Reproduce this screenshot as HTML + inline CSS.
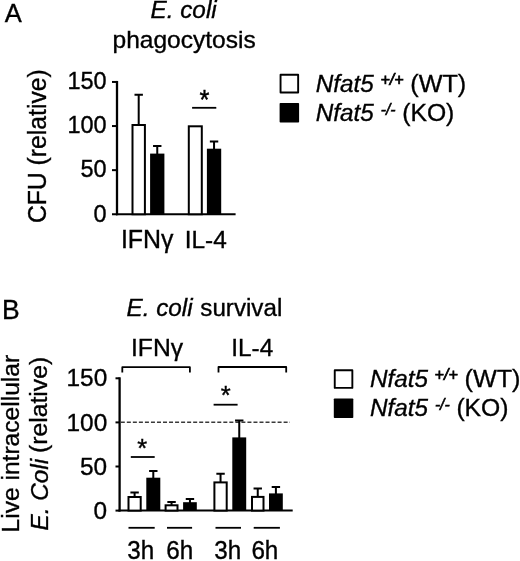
<!DOCTYPE html>
<html><head><meta charset="utf-8"><title>Figure</title>
<style>
html,body{margin:0;padding:0;background:#fff;}
svg{display:block;}
text{font-family:"Liberation Sans",sans-serif;fill:#000;}
</style></head>
<body>
<svg width="520" height="561" viewBox="0 0 520 561">
<rect width="520" height="561" fill="#fff"/>
<text transform="translate(4.8,21.7) scale(1,1.04)" font-size="25.5" text-anchor="start" stroke="#000" stroke-width="0.35">A</text>
<text transform="translate(183.6,18.4) scale(1,0.95)" font-size="24.3" text-anchor="middle" font-style="italic" stroke="#000" stroke-width="0.35">E. coli</text>
<text transform="translate(184.1,48.0) scale(1,0.98)" font-size="24.55" text-anchor="middle" stroke="#000" stroke-width="0.35">phagocytosis</text>
<text transform="translate(45.7,223.1) rotate(-90) scale(1,1.01)" font-size="24.75" text-anchor="start" stroke="#000" stroke-width="0.35">CFU (relative)</text>
<line x1="117.0" y1="80.94999999999999" x2="117.0" y2="215.25" stroke="#000" stroke-width="2.3"/>
<line x1="116.0" y1="214.25" x2="235.6" y2="214.25" stroke="#000" stroke-width="2.0"/>
<line x1="112" y1="214.25" x2="117.0" y2="214.25" stroke="#000" stroke-width="2.0"/>
<text transform="translate(106.6,221.8) scale(1,1.05)" font-size="23.5" text-anchor="end" stroke="#000" stroke-width="0.35">0</text>
<line x1="112" y1="170.15" x2="117.0" y2="170.15" stroke="#000" stroke-width="2.0"/>
<text transform="translate(106.6,176.9) scale(1,1.05)" font-size="23.5" text-anchor="end" stroke="#000" stroke-width="0.35">50</text>
<line x1="112" y1="126.05" x2="117.0" y2="126.05" stroke="#000" stroke-width="2.0"/>
<text transform="translate(106.6,132.6) scale(1,1.05)" font-size="23.5" text-anchor="end" stroke="#000" stroke-width="0.35">100</text>
<line x1="112" y1="81.95" x2="117.0" y2="81.95" stroke="#000" stroke-width="2.0"/>
<text transform="translate(106.6,88.5) scale(1,1.05)" font-size="23.5" text-anchor="end" stroke="#000" stroke-width="0.35">150</text>
<path d="M138.70 125.00V94.80M134.50 94.80H142.90" fill="none" stroke="#000" stroke-width="2.0"/>
<rect x="132.50" y="125.00" width="12.40" height="89.25" fill="#fff" stroke="#000" stroke-width="2.0"/>
<path d="M157.25 154.60V146.00M153.05 146.00H161.45" fill="none" stroke="#000" stroke-width="2.0"/>
<rect x="150.10" y="153.60" width="14.30" height="60.65" fill="#000"/>
<rect x="188.80" y="126.30" width="13.00" height="87.95" fill="#fff" stroke="#000" stroke-width="2.0"/>
<path d="M214.05 149.70V141.40M209.85 141.40H218.25" fill="none" stroke="#000" stroke-width="2.0"/>
<rect x="206.90" y="148.70" width="14.30" height="65.55" fill="#000"/>
<line x1="192.1" y1="107.8" x2="216.3" y2="107.8" stroke="#000" stroke-width="1.8"/>
<text transform="translate(204.45,108.6) scale(1,1.07)" font-size="25.5" text-anchor="middle" stroke="#000" stroke-width="0.4">*</text>
<text transform="translate(120.9,247.5)" font-size="24.9" text-anchor="start" stroke="#000" stroke-width="0.35">IFNγ</text>
<text transform="translate(184.7,247.5)" font-size="24.4" text-anchor="start" stroke="#000" stroke-width="0.35">IL-4</text>
<rect x="280.55" y="74.80" width="17.6" height="17.7" fill="#fff" stroke="#000" stroke-width="1.9" stroke-linejoin="round"/>
<rect x="279.60" y="103.00" width="19.5" height="19.6" rx="0.8" fill="#000"/>
<text transform="translate(315.8,91.9) scale(1,0.95)" font-size="24.3" text-anchor="start" font-style="italic" stroke="#000" stroke-width="0.35">Nfat5</text>
<text transform="translate(380.4,84.5)" font-size="16" text-anchor="start" font-style="italic" stroke="#000" stroke-width="0.7">+/+</text>
<text transform="translate(410.3,91.9) scale(1,0.96)" font-size="25.2" text-anchor="start" stroke="#000" stroke-width="0.35">(WT)</text>
<text transform="translate(315.8,120.8) scale(1,0.95)" font-size="24.3" text-anchor="start" font-style="italic" stroke="#000" stroke-width="0.35">Nfat5</text>
<text transform="translate(380.7,115.0)" font-size="15.7" text-anchor="start" font-style="italic" stroke="#000" stroke-width="0.6">-/-</text>
<text transform="translate(402.2,120.7) scale(1,0.96)" font-size="24.7" text-anchor="start" stroke="#000" stroke-width="0.35">(KO)</text>
<text transform="translate(2.0,318.6) scale(1,1.05)" font-size="26.5" text-anchor="start" stroke="#000" stroke-width="0.35">B</text>
<text transform="translate(126.5,315.8) scale(1,0.95)" font-size="24.3" text-anchor="start" font-style="italic" stroke="#000" stroke-width="0.35">E. coli</text>
<text transform="translate(200.3,315.8) scale(1,0.98)" font-size="24.2" text-anchor="start" stroke="#000" stroke-width="0.35">survival</text>
<text transform="translate(131.0,356.2)" font-size="24.7" text-anchor="start" stroke="#000" stroke-width="0.35">IFNγ</text>
<text transform="translate(231.3,356.4)" font-size="24.3" text-anchor="start" stroke="#000" stroke-width="0.35">IL-4</text>
<polyline points="122.3,372.4 122.3,367.15 189.9,367.15 189.9,372.4" fill="none" stroke="#000" stroke-width="1.8" stroke-linejoin="round"/>
<polyline points="218.5,372.4 218.5,367.0 286.2,367.0 286.2,372.4" fill="none" stroke="#000" stroke-width="1.8" stroke-linejoin="round"/>
<text transform="translate(19.1,532.5) rotate(-90)" font-size="24.6" text-anchor="start" stroke="#000" stroke-width="0.35">Live intracellular</text>
<text transform="translate(47.5,530.4) rotate(-90) scale(1,0.96)" font-size="24.3" text-anchor="start" font-style="italic" stroke="#000" stroke-width="0.35">E. Coli</text>
<text transform="translate(47.0,452.9) rotate(-90) scale(1,0.97)" font-size="24.7" text-anchor="start" stroke="#000" stroke-width="0.35">(relative)</text>
<line x1="119.6" y1="377.3" x2="119.6" y2="511.6" stroke="#000" stroke-width="2.3"/>
<line x1="118.6" y1="510.6" x2="292.7" y2="510.6" stroke="#000" stroke-width="2.0"/>
<line x1="115.5" y1="510.60" x2="119.6" y2="510.60" stroke="#000" stroke-width="2.0"/>
<text transform="translate(107.2,519.4)" font-size="24.4" text-anchor="end" stroke="#000" stroke-width="0.35">0</text>
<line x1="115.5" y1="466.50" x2="119.6" y2="466.50" stroke="#000" stroke-width="2.0"/>
<text transform="translate(107.2,474.5)" font-size="24.4" text-anchor="end" stroke="#000" stroke-width="0.35">50</text>
<line x1="115.5" y1="422.40" x2="119.6" y2="422.40" stroke="#000" stroke-width="2.0"/>
<text transform="translate(107.2,430.6)" font-size="24.4" text-anchor="end" stroke="#000" stroke-width="0.35">100</text>
<line x1="115.5" y1="378.30" x2="119.6" y2="378.30" stroke="#000" stroke-width="2.0"/>
<text transform="translate(107.2,386.3)" font-size="24.4" text-anchor="end" stroke="#000" stroke-width="0.35">150</text>
<line x1="120.8" y1="422.30" x2="290" y2="422.30" stroke="#3a3a3a" stroke-width="1.5" stroke-dasharray="4,2.03"/>
<path d="M134.60 497.00V492.40M130.40 492.40H138.80" fill="none" stroke="#000" stroke-width="2.0"/>
<rect x="128.50" y="497.00" width="12.20" height="13.60" fill="#fff" stroke="#000" stroke-width="2.0"/>
<path d="M153.30 478.70V470.90M149.10 470.90H157.50" fill="none" stroke="#000" stroke-width="2.0"/>
<rect x="146.30" y="477.70" width="14.00" height="32.90" fill="#000"/>
<path d="M171.55 505.30V501.90M167.35 501.90H175.75" fill="none" stroke="#000" stroke-width="2.0"/>
<rect x="165.60" y="505.30" width="11.90" height="5.30" fill="#fff" stroke="#000" stroke-width="2.0"/>
<path d="M189.95 503.20V498.90M185.75 498.90H194.15" fill="none" stroke="#000" stroke-width="2.0"/>
<rect x="183.10" y="502.20" width="13.70" height="8.40" fill="#000"/>
<path d="M220.55 482.40V473.70M216.35 473.70H224.75" fill="none" stroke="#000" stroke-width="2.0"/>
<rect x="214.40" y="482.40" width="12.30" height="28.20" fill="#fff" stroke="#000" stroke-width="2.0"/>
<path d="M239.25 438.40V420.40M235.05 420.40H243.45" fill="none" stroke="#000" stroke-width="2.0"/>
<rect x="232.30" y="437.40" width="13.90" height="73.20" fill="#000"/>
<path d="M257.75 496.90V488.50M253.55 488.50H261.95" fill="none" stroke="#000" stroke-width="2.0"/>
<rect x="252.00" y="496.90" width="11.50" height="13.70" fill="#fff" stroke="#000" stroke-width="2.0"/>
<path d="M275.90 494.40V487.10M271.70 487.10H280.10" fill="none" stroke="#000" stroke-width="2.0"/>
<rect x="269.00" y="493.40" width="13.80" height="17.20" fill="#000"/>
<line x1="130.8" y1="457" x2="154.7" y2="457" stroke="#000" stroke-width="1.8"/>
<text transform="translate(142.3,456.9)" font-size="25.5" text-anchor="middle" stroke="#000" stroke-width="0.4">*</text>
<line x1="213.6" y1="404.7" x2="237.6" y2="404.7" stroke="#000" stroke-width="1.8"/>
<text transform="translate(225.6,404.2)" font-size="25.5" text-anchor="middle" stroke="#000" stroke-width="0.4">*</text>
<line x1="128.5" y1="527.8" x2="154.7" y2="527.8" stroke="#000" stroke-width="1.8"/>
<line x1="167" y1="527.8" x2="192.1" y2="527.8" stroke="#000" stroke-width="1.8"/>
<line x1="215.5" y1="527.8" x2="241" y2="527.8" stroke="#000" stroke-width="1.8"/>
<line x1="253.7" y1="527.8" x2="279.9" y2="527.8" stroke="#000" stroke-width="1.8"/>
<text transform="translate(127.3,559.0) scale(1,1.05)" font-size="24.2" text-anchor="start" stroke="#000" stroke-width="0.35">3h</text>
<text transform="translate(166.3,559.0) scale(1,1.05)" font-size="24.2" text-anchor="start" stroke="#000" stroke-width="0.35">6h</text>
<text transform="translate(214.3,559.0) scale(1,1.05)" font-size="24.2" text-anchor="start" stroke="#000" stroke-width="0.35">3h</text>
<text transform="translate(251.4,559.0) scale(1,1.05)" font-size="24.2" text-anchor="start" stroke="#000" stroke-width="0.35">6h</text>
<rect x="334.75" y="370.20" width="17.6" height="17.7" fill="#fff" stroke="#000" stroke-width="1.9" stroke-linejoin="round"/>
<rect x="333.80" y="398.40" width="19.5" height="19.6" rx="0.8" fill="#000"/>
<text transform="translate(370.0,387.3) scale(1,0.95)" font-size="24.3" text-anchor="start" font-style="italic" stroke="#000" stroke-width="0.35">Nfat5</text>
<text transform="translate(434.6,379.9)" font-size="16" text-anchor="start" font-style="italic" stroke="#000" stroke-width="0.7">+/+</text>
<text transform="translate(464.5,387.3) scale(1,0.96)" font-size="25.2" text-anchor="start" stroke="#000" stroke-width="0.35">(WT)</text>
<text transform="translate(370.0,416.2) scale(1,0.95)" font-size="24.3" text-anchor="start" font-style="italic" stroke="#000" stroke-width="0.35">Nfat5</text>
<text transform="translate(434.9,410.4)" font-size="15.7" text-anchor="start" font-style="italic" stroke="#000" stroke-width="0.6">-/-</text>
<text transform="translate(456.4,416.1) scale(1,0.96)" font-size="24.7" text-anchor="start" stroke="#000" stroke-width="0.35">(KO)</text>
</svg>
</body></html>
